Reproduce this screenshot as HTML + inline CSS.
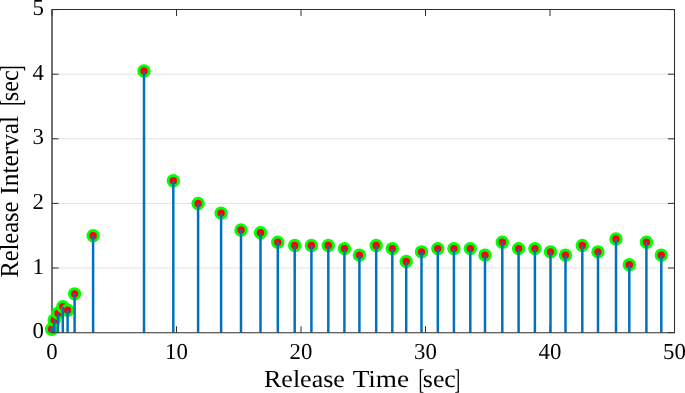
<!DOCTYPE html>
<html><head><meta charset="utf-8"><title>Release Interval vs Release Time</title>
<style>
html,body{margin:0;padding:0;background:#fff;width:685px;height:393px;overflow:hidden}
svg{display:block}
.t{text-rendering:geometricPrecision;font-family:"Liberation Serif",serif;font-size:22.8px;fill:#000}
.l{text-rendering:geometricPrecision;font-family:"Liberation Serif",serif;font-size:24.5px;fill:#000}
</style></head><body>
<svg width="685" height="393" viewBox="0 0 685 393">
<line x1="52.0" y1="268.00" x2="674.5" y2="268.00" stroke="#e3e3e3" stroke-width="1"/>
<line x1="52.0" y1="203.40" x2="674.5" y2="203.40" stroke="#e3e3e3" stroke-width="1"/>
<line x1="52.0" y1="138.80" x2="674.5" y2="138.80" stroke="#e3e3e3" stroke-width="1"/>
<line x1="52.0" y1="74.20" x2="674.5" y2="74.20" stroke="#e3e3e3" stroke-width="1"/>
<line x1="52.0" y1="8.95" x2="52.0" y2="333.3" stroke="#2e2e2e" stroke-width="1.35"/>
<line x1="674.5" y1="8.95" x2="674.5" y2="333.3" stroke="#2e2e2e" stroke-width="1.05"/>
<line x1="52.0" y1="9.5" x2="674.5" y2="9.5" stroke="#2e2e2e" stroke-width="1.1"/>
<line x1="52.00" y1="332.75" x2="52.00" y2="326.25" stroke="#2e2e2e" stroke-width="1"/>
<line x1="52.00" y1="9.5" x2="52.00" y2="16.0" stroke="#2e2e2e" stroke-width="1"/>
<line x1="176.50" y1="332.75" x2="176.50" y2="326.25" stroke="#2e2e2e" stroke-width="1"/>
<line x1="176.50" y1="9.5" x2="176.50" y2="16.0" stroke="#2e2e2e" stroke-width="1"/>
<line x1="301.00" y1="332.75" x2="301.00" y2="326.25" stroke="#2e2e2e" stroke-width="1"/>
<line x1="301.00" y1="9.5" x2="301.00" y2="16.0" stroke="#2e2e2e" stroke-width="1"/>
<line x1="425.50" y1="332.75" x2="425.50" y2="326.25" stroke="#2e2e2e" stroke-width="1"/>
<line x1="425.50" y1="9.5" x2="425.50" y2="16.0" stroke="#2e2e2e" stroke-width="1"/>
<line x1="550.00" y1="332.75" x2="550.00" y2="326.25" stroke="#2e2e2e" stroke-width="1"/>
<line x1="550.00" y1="9.5" x2="550.00" y2="16.0" stroke="#2e2e2e" stroke-width="1"/>
<line x1="674.50" y1="332.75" x2="674.50" y2="326.25" stroke="#2e2e2e" stroke-width="1"/>
<line x1="674.50" y1="9.5" x2="674.50" y2="16.0" stroke="#2e2e2e" stroke-width="1"/>
<line x1="52.0" y1="332.60" x2="58.5" y2="332.60" stroke="#2e2e2e" stroke-width="1"/>
<line x1="674.5" y1="332.60" x2="668.0" y2="332.60" stroke="#2e2e2e" stroke-width="1"/>
<line x1="52.0" y1="268.00" x2="58.5" y2="268.00" stroke="#2e2e2e" stroke-width="1"/>
<line x1="674.5" y1="268.00" x2="668.0" y2="268.00" stroke="#2e2e2e" stroke-width="1"/>
<line x1="52.0" y1="203.40" x2="58.5" y2="203.40" stroke="#2e2e2e" stroke-width="1"/>
<line x1="674.5" y1="203.40" x2="668.0" y2="203.40" stroke="#2e2e2e" stroke-width="1"/>
<line x1="52.0" y1="138.80" x2="58.5" y2="138.80" stroke="#2e2e2e" stroke-width="1"/>
<line x1="674.5" y1="138.80" x2="668.0" y2="138.80" stroke="#2e2e2e" stroke-width="1"/>
<line x1="52.0" y1="74.20" x2="58.5" y2="74.20" stroke="#2e2e2e" stroke-width="1"/>
<line x1="674.5" y1="74.20" x2="668.0" y2="74.20" stroke="#2e2e2e" stroke-width="1"/>
<line x1="52.0" y1="9.60" x2="58.5" y2="9.60" stroke="#2e2e2e" stroke-width="1"/>
<line x1="674.5" y1="9.60" x2="668.0" y2="9.60" stroke="#2e2e2e" stroke-width="1"/>
<circle cx="51.60" cy="329.24" r="5.2" fill="#ff0000" stroke="#00ff00" stroke-width="3"/>
<circle cx="54.20" cy="320.00" r="5.2" fill="#ff0000" stroke="#00ff00" stroke-width="3"/>
<circle cx="58.00" cy="313.22" r="5.2" fill="#ff0000" stroke="#00ff00" stroke-width="3"/>
<circle cx="62.80" cy="306.76" r="5.2" fill="#ff0000" stroke="#00ff00" stroke-width="3"/>
<circle cx="67.60" cy="310.31" r="5.2" fill="#ff0000" stroke="#00ff00" stroke-width="3"/>
<circle cx="74.60" cy="293.84" r="5.2" fill="#ff0000" stroke="#00ff00" stroke-width="3"/>
<circle cx="93.10" cy="235.70" r="5.2" fill="#ff0000" stroke="#00ff00" stroke-width="3"/>
<circle cx="144.00" cy="70.97" r="5.2" fill="#ff0000" stroke="#00ff00" stroke-width="3"/>
<circle cx="173.30" cy="180.79" r="5.2" fill="#ff0000" stroke="#00ff00" stroke-width="3"/>
<circle cx="198.10" cy="203.40" r="5.2" fill="#ff0000" stroke="#00ff00" stroke-width="3"/>
<circle cx="221.10" cy="213.09" r="5.2" fill="#ff0000" stroke="#00ff00" stroke-width="3"/>
<circle cx="241.00" cy="229.89" r="5.2" fill="#ff0000" stroke="#00ff00" stroke-width="3"/>
<circle cx="260.50" cy="232.79" r="5.2" fill="#ff0000" stroke="#00ff00" stroke-width="3"/>
<circle cx="277.80" cy="242.16" r="5.2" fill="#ff0000" stroke="#00ff00" stroke-width="3"/>
<circle cx="294.70" cy="245.39" r="5.2" fill="#ff0000" stroke="#00ff00" stroke-width="3"/>
<circle cx="311.40" cy="245.39" r="5.2" fill="#ff0000" stroke="#00ff00" stroke-width="3"/>
<circle cx="328.30" cy="245.39" r="5.2" fill="#ff0000" stroke="#00ff00" stroke-width="3"/>
<circle cx="344.40" cy="248.62" r="5.2" fill="#ff0000" stroke="#00ff00" stroke-width="3"/>
<circle cx="359.40" cy="255.08" r="5.2" fill="#ff0000" stroke="#00ff00" stroke-width="3"/>
<circle cx="376.20" cy="245.39" r="5.2" fill="#ff0000" stroke="#00ff00" stroke-width="3"/>
<circle cx="392.30" cy="248.62" r="5.2" fill="#ff0000" stroke="#00ff00" stroke-width="3"/>
<circle cx="406.20" cy="261.54" r="5.2" fill="#ff0000" stroke="#00ff00" stroke-width="3"/>
<circle cx="421.50" cy="251.85" r="5.2" fill="#ff0000" stroke="#00ff00" stroke-width="3"/>
<circle cx="437.80" cy="248.62" r="5.2" fill="#ff0000" stroke="#00ff00" stroke-width="3"/>
<circle cx="453.90" cy="248.62" r="5.2" fill="#ff0000" stroke="#00ff00" stroke-width="3"/>
<circle cx="470.30" cy="248.62" r="5.2" fill="#ff0000" stroke="#00ff00" stroke-width="3"/>
<circle cx="485.00" cy="255.08" r="5.2" fill="#ff0000" stroke="#00ff00" stroke-width="3"/>
<circle cx="502.30" cy="242.16" r="5.2" fill="#ff0000" stroke="#00ff00" stroke-width="3"/>
<circle cx="518.60" cy="248.62" r="5.2" fill="#ff0000" stroke="#00ff00" stroke-width="3"/>
<circle cx="534.90" cy="248.62" r="5.2" fill="#ff0000" stroke="#00ff00" stroke-width="3"/>
<circle cx="550.50" cy="251.85" r="5.2" fill="#ff0000" stroke="#00ff00" stroke-width="3"/>
<circle cx="565.50" cy="255.08" r="5.2" fill="#ff0000" stroke="#00ff00" stroke-width="3"/>
<circle cx="582.30" cy="245.39" r="5.2" fill="#ff0000" stroke="#00ff00" stroke-width="3"/>
<circle cx="598.00" cy="251.85" r="5.2" fill="#ff0000" stroke="#00ff00" stroke-width="3"/>
<circle cx="616.00" cy="238.93" r="5.2" fill="#ff0000" stroke="#00ff00" stroke-width="3"/>
<circle cx="629.30" cy="264.77" r="5.2" fill="#ff0000" stroke="#00ff00" stroke-width="3"/>
<circle cx="646.40" cy="242.16" r="5.2" fill="#ff0000" stroke="#00ff00" stroke-width="3"/>
<circle cx="661.30" cy="255.08" r="5.2" fill="#ff0000" stroke="#00ff00" stroke-width="3"/>
<line x1="51.60" y1="332.60" x2="51.60" y2="327.00" stroke="#0072bd" stroke-width="2.5"/>
<line x1="54.20" y1="332.60" x2="54.20" y2="320.00" stroke="#0072bd" stroke-width="2.5"/>
<line x1="58.00" y1="332.60" x2="58.00" y2="313.22" stroke="#0072bd" stroke-width="2.5"/>
<line x1="62.80" y1="332.60" x2="62.80" y2="306.76" stroke="#0072bd" stroke-width="2.5"/>
<line x1="67.60" y1="332.60" x2="67.60" y2="310.31" stroke="#0072bd" stroke-width="2.5"/>
<line x1="74.60" y1="332.60" x2="74.60" y2="293.84" stroke="#0072bd" stroke-width="2.5"/>
<line x1="93.10" y1="332.60" x2="93.10" y2="235.70" stroke="#0072bd" stroke-width="2.5"/>
<line x1="144.00" y1="332.60" x2="144.00" y2="70.97" stroke="#0072bd" stroke-width="2.5"/>
<line x1="173.30" y1="332.60" x2="173.30" y2="180.79" stroke="#0072bd" stroke-width="2.5"/>
<line x1="198.10" y1="332.60" x2="198.10" y2="203.40" stroke="#0072bd" stroke-width="2.5"/>
<line x1="221.10" y1="332.60" x2="221.10" y2="213.09" stroke="#0072bd" stroke-width="2.5"/>
<line x1="241.00" y1="332.60" x2="241.00" y2="229.89" stroke="#0072bd" stroke-width="2.5"/>
<line x1="260.50" y1="332.60" x2="260.50" y2="232.79" stroke="#0072bd" stroke-width="2.5"/>
<line x1="277.80" y1="332.60" x2="277.80" y2="242.16" stroke="#0072bd" stroke-width="2.5"/>
<line x1="294.70" y1="332.60" x2="294.70" y2="245.39" stroke="#0072bd" stroke-width="2.5"/>
<line x1="311.40" y1="332.60" x2="311.40" y2="245.39" stroke="#0072bd" stroke-width="2.5"/>
<line x1="328.30" y1="332.60" x2="328.30" y2="245.39" stroke="#0072bd" stroke-width="2.5"/>
<line x1="344.40" y1="332.60" x2="344.40" y2="248.62" stroke="#0072bd" stroke-width="2.5"/>
<line x1="359.40" y1="332.60" x2="359.40" y2="255.08" stroke="#0072bd" stroke-width="2.5"/>
<line x1="376.20" y1="332.60" x2="376.20" y2="245.39" stroke="#0072bd" stroke-width="2.5"/>
<line x1="392.30" y1="332.60" x2="392.30" y2="248.62" stroke="#0072bd" stroke-width="2.5"/>
<line x1="406.20" y1="332.60" x2="406.20" y2="261.54" stroke="#0072bd" stroke-width="2.5"/>
<line x1="421.50" y1="332.60" x2="421.50" y2="251.85" stroke="#0072bd" stroke-width="2.5"/>
<line x1="437.80" y1="332.60" x2="437.80" y2="248.62" stroke="#0072bd" stroke-width="2.5"/>
<line x1="453.90" y1="332.60" x2="453.90" y2="248.62" stroke="#0072bd" stroke-width="2.5"/>
<line x1="470.30" y1="332.60" x2="470.30" y2="248.62" stroke="#0072bd" stroke-width="2.5"/>
<line x1="485.00" y1="332.60" x2="485.00" y2="255.08" stroke="#0072bd" stroke-width="2.5"/>
<line x1="502.30" y1="332.60" x2="502.30" y2="242.16" stroke="#0072bd" stroke-width="2.5"/>
<line x1="518.60" y1="332.60" x2="518.60" y2="248.62" stroke="#0072bd" stroke-width="2.5"/>
<line x1="534.90" y1="332.60" x2="534.90" y2="248.62" stroke="#0072bd" stroke-width="2.5"/>
<line x1="550.50" y1="332.60" x2="550.50" y2="251.85" stroke="#0072bd" stroke-width="2.5"/>
<line x1="565.50" y1="332.60" x2="565.50" y2="255.08" stroke="#0072bd" stroke-width="2.5"/>
<line x1="582.30" y1="332.60" x2="582.30" y2="245.39" stroke="#0072bd" stroke-width="2.5"/>
<line x1="598.00" y1="332.60" x2="598.00" y2="251.85" stroke="#0072bd" stroke-width="2.5"/>
<line x1="616.00" y1="332.60" x2="616.00" y2="238.93" stroke="#0072bd" stroke-width="2.5"/>
<line x1="629.30" y1="332.60" x2="629.30" y2="264.77" stroke="#0072bd" stroke-width="2.5"/>
<line x1="646.40" y1="332.60" x2="646.40" y2="242.16" stroke="#0072bd" stroke-width="2.5"/>
<line x1="661.30" y1="332.60" x2="661.30" y2="255.08" stroke="#0072bd" stroke-width="2.5"/>
<line x1="52.0" y1="332.75" x2="674.5" y2="332.75" stroke="#2e2e2e" stroke-width="1.05"/>
<text x="52.00" y="358.7" text-anchor="middle" class="t">0</text>
<text x="176.50" y="358.7" text-anchor="middle" class="t">10</text>
<text x="301.00" y="358.7" text-anchor="middle" class="t">20</text>
<text x="425.50" y="358.7" text-anchor="middle" class="t">30</text>
<text x="550.00" y="358.7" text-anchor="middle" class="t">40</text>
<text x="674.50" y="358.7" text-anchor="middle" class="t">50</text>
<text x="43.8" y="338.20" text-anchor="end" class="t">0</text>
<text x="43.8" y="273.60" text-anchor="end" class="t">1</text>
<text x="43.8" y="209.00" text-anchor="end" class="t">2</text>
<text x="43.8" y="144.40" text-anchor="end" class="t">3</text>
<text x="43.8" y="79.80" text-anchor="end" class="t">4</text>
<text x="43.8" y="15.20" text-anchor="end" class="t">5</text>
<text class="l"><tspan x="264.05" y="386.90" textLength="80.76" lengthAdjust="spacingAndGlyphs">Release</tspan> <tspan x="352.65" y="386.90" textLength="56.47" lengthAdjust="spacingAndGlyphs">Time</tspan> <tspan x="418.52" y="388.92" font-size="28.56" textLength="5.71" lengthAdjust="spacingAndGlyphs">[</tspan><tspan x="422.83" y="386.90" textLength="33.02" lengthAdjust="spacingAndGlyphs">sec</tspan><tspan x="454.44" y="388.92" font-size="28.56" textLength="5.71" lengthAdjust="spacingAndGlyphs">]</tspan></text>
<text class="l" style="font-size:26.0px" transform="translate(18.35,0) rotate(-90)"><tspan x="-277.61" y="0.00" textLength="76.06" lengthAdjust="spacingAndGlyphs">Release</tspan> <tspan x="-194.74" y="0.00" textLength="78.91" lengthAdjust="spacingAndGlyphs">Interval</tspan> <tspan x="-105.85" y="2.59" font-size="30.73" textLength="6.06" lengthAdjust="spacingAndGlyphs">[</tspan><tspan x="-101.20" y="0.00" textLength="30.79" lengthAdjust="spacingAndGlyphs">sec</tspan><tspan x="-71.54" y="2.59" font-size="30.73" textLength="6.06" lengthAdjust="spacingAndGlyphs">]</tspan></text>
</svg>
</body></html>
